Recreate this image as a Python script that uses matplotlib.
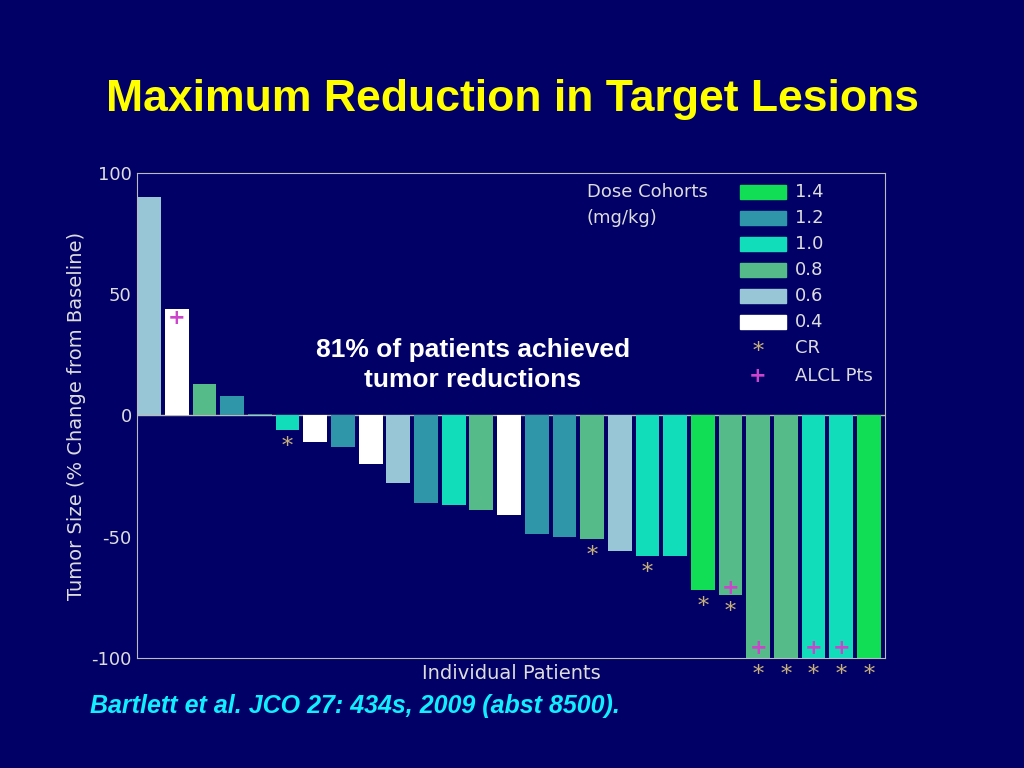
import matplotlib
matplotlib.use("Agg")
import matplotlib.pyplot as plt
from matplotlib.patches import Rectangle

values = [90, 44, 13, 8, 0.5, -6, -11, -13, -20, -28, -36, -37, -39, -41, -49, -50,
          -51, -56, -58, -58, -72, -74, -100, -100, -100, -100, -100]
cohorts = ["0.6", "0.4", "0.8", "1.2", "1.2", "1.0", "0.4", "1.2", "0.4", "0.6", "1.2", "1.0",
           "0.8", "0.4", "1.2", "1.2", "0.8", "0.6", "1.0", "1.0", "1.4", "0.8", "0.8", "0.8",
           "1.0", "1.0", "1.4"]
cr = [5, 16, 18, 20, 21, 22, 23, 24, 25, 26]
alcl_idx = [1, 21, 22, 24, 25]
alcl_y = [40, -71, -96, -96, -96]
legend_labels = ["1.4", "1.2", "1.0", "0.8", "0.6", "0.4"]
colors = {"1.4": "#11DD55", "1.2": "#2E96A8", "1.0": "#11DDBB", "0.8": "#55BB88",
          "0.6": "#99C6D6", "0.4": "#FFFFFF"}
bg = "#000066"
star_c = "#C8B07A"
plus_c = "#CC44CC"

fig = plt.figure(figsize=(10.24, 7.68), dpi=100, facecolor=bg)
ax = fig.add_axes([0.134, 0.143, 0.73, 0.632])
ax.set_facecolor(bg)
x = list(range(len(values)))
ax.bar(x, values, width=0.86, color=[colors[c] for c in cohorts], zorder=2)
ax.set_xlim(-0.43, 26.57)
ax.set_ylim(-100, 100)
ax.set_yticks([-100, -50, 0, 50, 100])
ax.set_yticklabels(["-100", "-50", "0", "50", "100"])
ax.set_xticks([])
ax.tick_params(axis="y", colors="#DDDDDD", labelsize=13, length=0, pad=4)
for s in ax.spines.values():
    s.set_color("#BBBBBB")
ax.axhline(0, color="#BBBBBB", lw=1, zorder=1)
ax.set_ylabel("Tumor Size (% Change from Baseline)", color="#DDDDDD", fontsize=14)
ax.set_xlabel("Individual Patients", color="#DDDDDD", fontsize=14, labelpad=4)

for i in cr:
    ax.annotate("*", (i, values[i]), xytext=(0, -4), textcoords="offset points",
                ha="center", va="top", color=star_c, fontsize=16, family="DejaVu Serif",
                annotation_clip=False)
for i, yv in zip(alcl_idx, alcl_y):
    ax.text(i, yv, "+", ha="center", va="center", color=plus_c, fontsize=15,
            fontweight="bold", zorder=3)

ax.text(0.449, 0.604, "81% of patients achieved\ntumor reductions", transform=ax.transAxes,
        ha="center", va="center", color="white", fontsize=19, fontweight="bold",
        linespacing=1.3, family="Liberation Sans")

fig.text(0.5, 0.87, "Maximum Reduction in Target Lesions", ha="center", va="center",
         color="#FFFF00", fontsize=32, fontweight="bold", family="Liberation Sans")
fig.text(0.088, 0.072, "Bartlett et al. JCO 27: 434s, 2009 (abst 8500).", color="#11EEFF",
         fontsize=18, fontweight="bold", style="italic", family="Liberation Sans")

# legend
W, H = 1024, 768
fig.text(587 / W, 1 - 192 / H, "Dose Cohorts", color="#DDDDDD", fontsize=13, va="center")
fig.text(587 / W, 1 - 218 / H, "(mg/kg)", color="#DDDDDD", fontsize=13, va="center")
rows = [192, 218, 244, 270, 296, 322]
for r, lab in zip(rows, legend_labels):
    fig.add_artist(Rectangle((740 / W, 1 - (r + 7) / H), 46 / W, 14 / H,
                             transform=fig.transFigure, color=colors[lab]))
    fig.text(795 / W, 1 - r / H, lab, color="#DDDDDD", fontsize=13, va="center")
fig.text(758 / W, 1 - 352 / H, "*", color=star_c, fontsize=16, ha="center", va="center",
         family="DejaVu Serif")
fig.text(795 / W, 1 - 348 / H, "CR", color="#DDDDDD", fontsize=13, va="center")
fig.text(758 / W, 1 - 376 / H, "+", color=plus_c, fontsize=15, fontweight="bold",
         ha="center", va="center")
fig.text(795 / W, 1 - 376 / H, "ALCL Pts", color="#DDDDDD", fontsize=13, va="center")

fig.savefig("out.png", dpi=100, facecolor=bg)
